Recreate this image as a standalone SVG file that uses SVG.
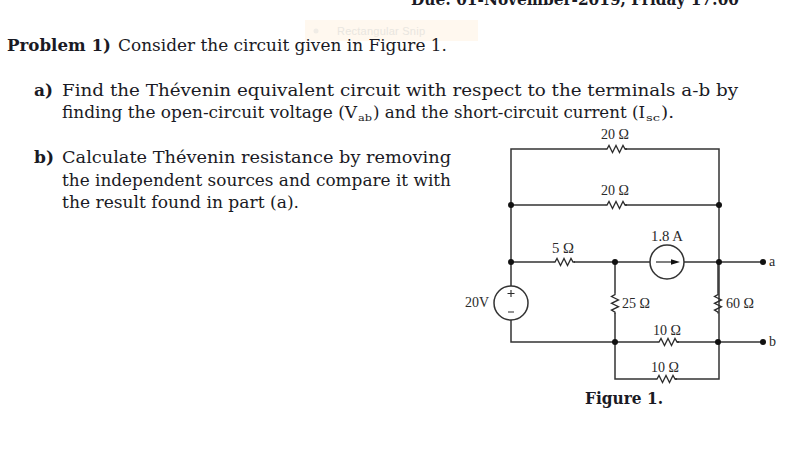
<svg xmlns="http://www.w3.org/2000/svg" width="812" height="456" viewBox="0 0 812 456">
<style>
.t{font-family:"DejaVu Serif","Liberation Serif",serif;font-size:17px;fill:#1a1a24}
.s{font-size:10px}
.b{font-weight:bold}
.c{font-family:"Liberation Serif",serif;font-size:14px;fill:#2a2a2a}
.w{fill:none;stroke:#333;stroke-width:1.500}
.d{fill:#111}
</style>
<defs>
<path id="rh" d="M0 0h2l2-3.500 3.500 7 3.500-7 3.500 7 3.500-7 2 3.500h2" fill="none" stroke="#2b2b2b" stroke-width="1.300"/>
<path id="rv" d="M0 0v1.500l-3.500 2 7 3.400-7 3.400 7 3.400-7 3.400 3.500 2v1.500" fill="none" stroke="#2b2b2b" stroke-width="1.300"/>
</defs>
<rect width="812" height="456" fill="#fff"/>
<rect x="305" y="20" width="173" height="21" fill="#fff8ef"/>
<circle cx="316" cy="31" r="2.500" fill="#f0ece6"/>
<text x="337" y="35" font-family="Liberation Sans,sans-serif" font-size="11" fill="#e9e6e0" textLength="88">Rectangular Snip</text>
<text class="t b" x="411" y="5" textLength="328" lengthAdjust="spacingAndGlyphs">Due: 01-November-2019, Friday 17:00</text>
<text class="t b" x="7" y="51" textLength="104" lengthAdjust="spacingAndGlyphs">Problem 1)</text>
<text class="t" x="118" y="51" textLength="329" lengthAdjust="spacingAndGlyphs">Consider the circuit given in Figure 1.</text>
<text class="t b" x="34" y="96" textLength="19" lengthAdjust="spacingAndGlyphs">a)</text>
<text class="t" x="62" y="96" textLength="676" lengthAdjust="spacingAndGlyphs">Find the Thévenin equivalent circuit with respect to the terminals a-b by</text>
<text class="t" x="62" y="118" textLength="295" lengthAdjust="spacingAndGlyphs">finding the open-circuit voltage (V</text>
<text class="t s" x="358" y="121" textLength="14" lengthAdjust="spacingAndGlyphs">ab</text>
<text class="t" x="373" y="118" textLength="272" lengthAdjust="spacingAndGlyphs">) and the short-circuit current (I</text>
<text class="t s" x="646" y="121" textLength="14" lengthAdjust="spacingAndGlyphs">sc</text>
<text class="t" x="661" y="118" textLength="13" lengthAdjust="spacingAndGlyphs">).</text>
<text class="t b" x="34" y="163" textLength="20" lengthAdjust="spacingAndGlyphs">b)</text>
<text class="t" x="62" y="163" textLength="389" lengthAdjust="spacingAndGlyphs">Calculate Thévenin resistance by removing</text>
<text class="t" x="62" y="186" textLength="389" lengthAdjust="spacingAndGlyphs">the independent sources and compare it with</text>
<text class="t" x="62" y="208" textLength="237" lengthAdjust="spacingAndGlyphs">the result found in part (a).</text>
<text class="t b" x="585" y="404" textLength="78" lengthAdjust="spacingAndGlyphs">Figure 1.</text>
<g id="connectors">
<path class="w" d="M511 286V149H605M625 149H719V342M511 205H605M625 205H719M511 262H553M574 262H650M684 262H763"/>
<path class="w" d="M511 320V342H657M677 342H763M615 262V293M615 313V379H655M675 379H719V342M718 262V293"/>
<use href="#rh" x="605" y="149"/><use href="#rh" x="605" y="205"/><use href="#rh" x="553" y="262"/>
<use href="#rh" x="657" y="342"/><use href="#rh" x="655" y="379"/>
<use href="#rv" x="615" y="293"/><use href="#rv" x="718" y="293"/>
</g>
<g id="junctions">
<circle class="d" cx="511" cy="205" r="3"/><circle class="d" cx="719" cy="205" r="3"/>
<circle class="d" cx="511" cy="262" r="3"/><circle class="d" cx="615" cy="262" r="3"/><circle class="d" cx="719" cy="262" r="3"/>
<circle class="d" cx="615" cy="342" r="3"/><circle class="d" cx="718" cy="342" r="3"/>
</g>
<g id="source-20v">
<circle class="w" cx="511" cy="303" r="17"/>
<path d="M507.500 293.500h7M511 290v7M508 312h6" fill="none" stroke="#2b2b2b" stroke-width="1.100"/>
<text class="c" x="465" y="307" textLength="24" lengthAdjust="spacingAndGlyphs">20V</text>
</g>
<g id="source-1-8a">
<circle class="w" cx="667" cy="262" r="17"/>
<path d="M656 262h18" stroke="#2b2b2b" stroke-width="1.200"/><path d="M680 262l-9-2.800v5.600z" fill="#111"/>
<text class="c" x="651" y="241" textLength="32" lengthAdjust="spacingAndGlyphs">1.8 A</text>
</g>
<g id="terminal-a"><circle class="d" cx="763" cy="262" r="3"/><text class="c" x="769" y="266">a</text></g>
<g id="terminal-b"><circle class="d" cx="763" cy="342" r="3"/><text class="c" x="769" y="346">b</text></g>
<g id="labels">
<text class="c" x="601" y="139" textLength="28" lengthAdjust="spacingAndGlyphs">20 Ω</text>
<text class="c" x="601" y="195" textLength="28" lengthAdjust="spacingAndGlyphs">20 Ω</text>
<text class="c" x="552" y="253" textLength="22" lengthAdjust="spacingAndGlyphs">5 Ω</text>
<text class="c" x="622" y="308" textLength="28" lengthAdjust="spacingAndGlyphs">25 Ω</text>
<text class="c" x="726" y="308" textLength="28" lengthAdjust="spacingAndGlyphs">60 Ω</text>
<text class="c" x="653" y="335" textLength="28" lengthAdjust="spacingAndGlyphs">10 Ω</text>
<text class="c" x="651" y="372" textLength="28" lengthAdjust="spacingAndGlyphs">10 Ω</text>
</g>
</svg>
